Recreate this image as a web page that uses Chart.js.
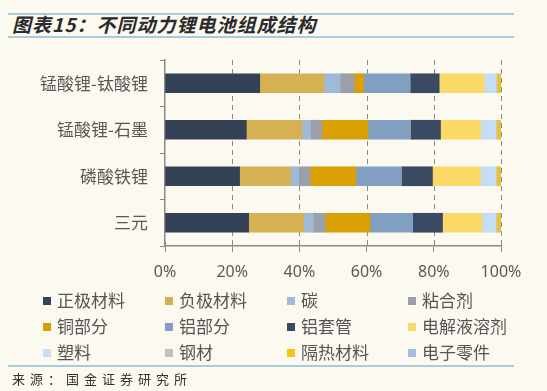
<!DOCTYPE html>
<html><head><meta charset="utf-8">
<script src="https://cdn.jsdelivr.net/npm/chart.js@4/dist/chart.umd.min.js"></script>
<style>
html,body{margin:0;padding:0;}
body{width:547px;height:391px;background:#FCF9F0;position:relative;overflow:hidden;font-family:"Noto Sans CJK SC","Noto Sans",sans-serif;}
.line{position:absolute;left:8px;width:506px;height:2px;background:#A9CBDB;}
#title{position:absolute;left:12px;top:11px;font-size:19px;font-weight:bold;font-style:italic;color:#2b2b2b;letter-spacing:1px;line-height:26px;}
#wrap{position:absolute;left:0;top:50px;width:547px;height:240px;}
#legend{position:absolute;left:43px;top:287px;width:500px;}
.li{position:absolute;height:26px;line-height:26px;font-size:17px;color:#555;white-space:nowrap;}
.li span.b{display:inline-block;width:8px;height:8px;margin-right:6px;vertical-align:middle;position:relative;top:-1px;}
#src{position:absolute;left:12px;top:369px;font-size:13px;color:#333;letter-spacing:5px;}
</style></head>
<body>
<div class="line" style="top:13px"></div>
<div id="title">图表15：不同动力锂电池组成结构</div>
<div class="line" style="top:36px"></div>
<div id="wrap"><canvas id="c" width="547" height="240"></canvas></div>
<div id="legend"></div>
<div class="line" style="top:365px;height:2px"></div>
<div id="src">来源：国金证券研究所</div>
<script>
const categories = ["锰酸锂-钛酸锂", "锰酸锂-石墨", "磷酸铁锂", "三元"];
const seriesNames = ["正极材料","负极材料","碳","粘合剂","铜部分","铝部分","铝套管","电解液溶剂","塑料","钢材","隔热材料","电子零件"];
const seriesColors = ["#344255","#D5B153","#9FBAD6","#9A9FA9","#D9A004","#819FC0","#3B4A63","#FCD867","#C5DEF3","#BEC2C7","#F8C20E","#A3BFE0"];
const cathode     = [28.2, 24.2, 22.2, 24.9];
const anode       = [19.1, 16.6, 15.2, 16.4];
const carbon      = [4.8, 2.5, 2.4, 2.8];
const binder      = [4.2, 3.4, 3.4, 3.6];
const copper      = [2.8, 13.7, 13.6, 13.3];
const aluminum    = [13.9, 12.7, 13.6, 12.7];
const alCase      = [8.6, 8.9, 9.2, 8.9];
const electrolyte = [13.4, 11.9, 14.3, 11.7];
const plastic     = [3.6, 4.6, 4.6, 4.2];
const steel       = [0.3, 0.3, 0.3, 0.3];
const insulation  = [0.9, 1.0, 1.0, 1.0];
const electronics = [0.2, 0.2, 0.2, 0.2];
const tickValues  = [0, 20, 40, 60, 80, 100];

const seriesValues = [cathode, anode, carbon, binder, copper, aluminum, alCase, electrolyte, plastic, steel, insulation, electronics];

const datasets = seriesNames.map((n,i)=>({
  label:n, data:seriesValues[i], backgroundColor:seriesColors[i], borderWidth:0,
  barThickness:19
}));

// HTML legend built from series arrays
const lg = document.getElementById('legend');
const colX = [0, 122, 244, 365];
seriesNames.forEach((n,i)=>{
  const d = document.createElement('div');
  d.className='li';
  d.style.left = colX[i%4]+'px';
  d.style.top = (Math.floor(i/4)*26)+'px';
  d.innerHTML = '<span class="b" style="background:'+seriesColors[i]+'"></span>'+n;
  lg.appendChild(d);
});

new Chart(document.getElementById('c'), {
  type:'bar',
  data:{labels:categories, datasets},
  options:{
    indexAxis:'y', responsive:false, animation:false,
    layout:{padding:{top:10,right:46,bottom:0,left:0}},
    plugins:{legend:{display:false}, tooltip:{enabled:false}},
    scales:{
      x:{
        stacked:true, min:0, max:100,
        afterBuildTicks:(s)=>{s.ticks = tickValues.map(v=>({value:v}));},
        afterFit:(s)=>{s.height=44; s.paddingLeft=0; s.paddingRight=0;},
        ticks:{callback:v=>v+'%', color:'#595959', font:{size:16, family:'"Noto Sans","Noto Sans CJK SC",sans-serif'}, padding:11, maxRotation:0},
        grid:{drawOnChartArea:false, color:'#8a8a8a', lineWidth:1, tickLength:6, tickColor:'#8a8a8a'},
        border:{color:'#8a8a8a', width:1.5}
      },
      y:{
        stacked:true,
        afterFit:(s)=>{s.width=165; s.paddingTop=0; s.paddingBottom=0;},
        ticks:{color:'#595959', font:{size:17, family:'"Noto Sans CJK SC",sans-serif'}, padding:12},
        grid:{drawOnChartArea:false, offset:true, tickLength:5, color:'#8a8a8a'},
        border:{color:'#8a8a8a', width:1.5}
      }
    }
  },
  plugins:[{
    id:'dashGrid',
    beforeDatasetsDraw(chart){
      const {ctx, chartArea:a, scales:{x}} = chart;
      ctx.save();
      ctx.strokeStyle='#8a8a8a'; ctx.lineWidth=1; ctx.setLineDash([5,4]);
      tickValues.slice(1).forEach(v=>{
        const px = Math.round(x.getPixelForValue(v))+0.5;
        ctx.beginPath(); ctx.moveTo(px,a.top); ctx.lineTo(px,a.bottom); ctx.stroke();
      });
      ctx.setLineDash([]);
      tickValues.forEach(v=>{
        const px = Math.round(x.getPixelForValue(v))+0.5;
        ctx.beginPath(); ctx.moveTo(px,a.bottom-4); ctx.lineTo(px,a.bottom); ctx.stroke();
      });
      ctx.restore();
    }
  }]
});
</script>
</body></html>
